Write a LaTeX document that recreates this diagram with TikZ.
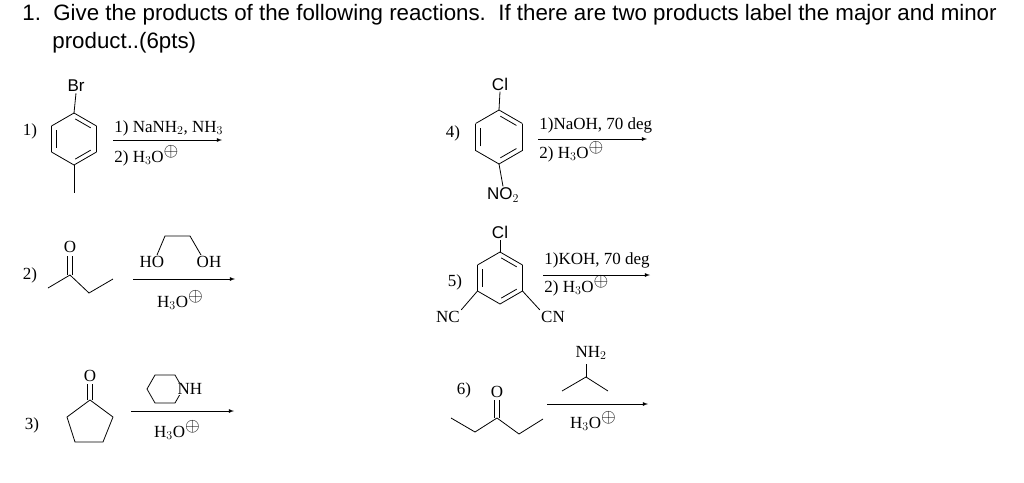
\documentclass[tikz,border=0pt]{standalone}
\usepackage{fontspec}
\setmainfont{Liberation Serif}
\newfontfamily\arial{Liberation Sans}
\newcommand\cpl{\raisebox{0.75ex}{\scalebox{1.1}{$\oplus$}}}
\begin{document}
\begin{tikzpicture}[x=1pt,y=-1pt,line width=0.8pt,
  ttl/.style={font=\arial\fontsize{22.3}{25}\selectfont,anchor=base west,inner sep=0},
  atm/.style={font=\arial\fontsize{17}{19}\selectfont,inner sep=1pt},
  rg/.style={font=\fontsize{17}{19}\selectfont,inner sep=1pt},
  num/.style={font=\fontsize{17}{19}\selectfont,inner sep=1pt},
  rxn/.style={-latex,line width=0.8pt}]
\useasboundingbox (0,0) rectangle (1024,482);
\node[ttl] (t1) at (22,20) {1.\ \ Give the products of the following reactions.\ \ If there are two products label the major and minor};
\node[ttl] (t2) at (52,48) {product..(6pts)};
\newcommand\benz[3]{%
 \foreach \a/\b in {90/30,30/-30,-30/-90,-90/-150,-150/150,150/90}
   \draw ({#1+#3*cos(\a)},{#2-#3*sin(\a)}) -- ({#1+#3*cos(\b)},{#2-#3*sin(\b)});
 \foreach \a/\b in {90/30,-30/-90,-150/150}
   \draw ({#1+0.8*#3*cos(\a)*0.93+0.8*#3*cos(\b)*0.07},{#2-0.8*#3*sin(\a)*0.93-0.8*#3*sin(\b)*0.07}) -- ({#1+0.8*#3*cos(\b)*0.93+0.8*#3*cos(\a)*0.07},{#2-0.8*#3*sin(\b)*0.93-0.8*#3*sin(\a)*0.07});
}
% 1
\node[num] (n1) at (30,131) {1)};
\benz{74}{139}{26}
\node[atm] (br) at (76,86) {Br};
\draw (74,113) -- (br.south);
\draw (74,165) -- (74,193);
\draw[rxn] (113,140) -- (222,140);
\node[rg,anchor=base west] (r1a) at (113,132) {1) NaNH$_2$, NH$_3$};
\node[rg,anchor=base west] (r1b) at (113,162) {2) H$_3$O\cpl};
% 2
\node[num] (n2) at (30,275) {2)};
\node[rg] (o2) at (70,247) {O};
\draw (67.5,256) -- (67.5,275); \draw (72.5,256) -- (72.5,275);
\draw (48,288) -- (70,275) -- (89,293) -- (113,279);
\draw[rxn] (133,279) -- (235,279);
\node[rg] (ho) at (152,262) {HO};
\node[rg] (oh) at (209,262) {OH};
\draw (157,255) -- (165,236) -- (190,236) -- (201,255);
\node[rg] (h2) at (180,300) {H$_3$O\cpl};
% 3
\node[num] (n3) at (32,425) {3)};
\node[rg] (o3) at (90,376) {O};
\draw (87.5,384) -- (87.5,400); \draw (92.5,384) -- (92.5,400);
\draw (90,400) -- (113,417) -- (103,442) -- (75,442) -- (67,417) -- cycle;
\draw[rxn] (131,411) -- (234,411);
\draw (183,389) -- (175,375) -- (155,375) -- (147,389) -- (155,403) -- (175,403) -- cycle;
\node[rg,fill=white,inner sep=0.5pt] (nh) at (190,389) {NH};
\node[rg] (h3) at (177,430) {H$_3$O\cpl};
% 4
\node[num] (n4) at (453,133) {4)};
\benz{499}{137}{27}
\node[atm] (cl4) at (500,84) {Cl};
\draw (499,110) -- (cl4.south);
\node[atm] (no2) at (503,195) {NO$_2$};
\draw (499,164) -- (no2.north);
\draw[rxn] (538,139) -- (647,139);
\node[rg,anchor=base west] (r4a) at (538,129) {1)NaOH, 70 deg};
\node[rg,anchor=base west] (r4b) at (538,158) {2) H$_3$O\cpl};
% 5
\node[num] (n5) at (455,282) {5)};
\benz{500}{278}{26}
\node[atm] (cl5) at (500,232) {Cl};
\draw (500,252) -- (cl5.south);
\node[rg] (nc) at (448,317) {NC};
\node[rg] (cn) at (553,317) {CN};
\draw (477.5,291) -- (nc.north east);
\draw (522.5,291) -- (cn.north west);
\draw[rxn] (543,275) -- (650,275);
\node[rg,anchor=base west] (r5a) at (543,264) {1)KOH, 70 deg};
\node[rg,anchor=base west] (r5b) at (543,292) {2) H$_3$O\cpl};
% 6
\node[num] (n6) at (464,390) {6)};
\node[rg] (o6) at (497,392) {O};
\draw (494.5,400) -- (494.5,418); \draw (499.5,400) -- (499.5,418);
\draw (451,418) -- (475,432) -- (497,418) -- (519,434) -- (543,419);
\draw[rxn] (547,404) -- (648,404);
\node[rg] (nh2) at (591,353) {NH$_2$};
\draw (586,364) -- (586,377); \draw (562,391) -- (586,377) -- (608,391);
\node[rg] (h6) at (593,421) {H$_3$O\cpl};
\end{tikzpicture}
\end{document}
